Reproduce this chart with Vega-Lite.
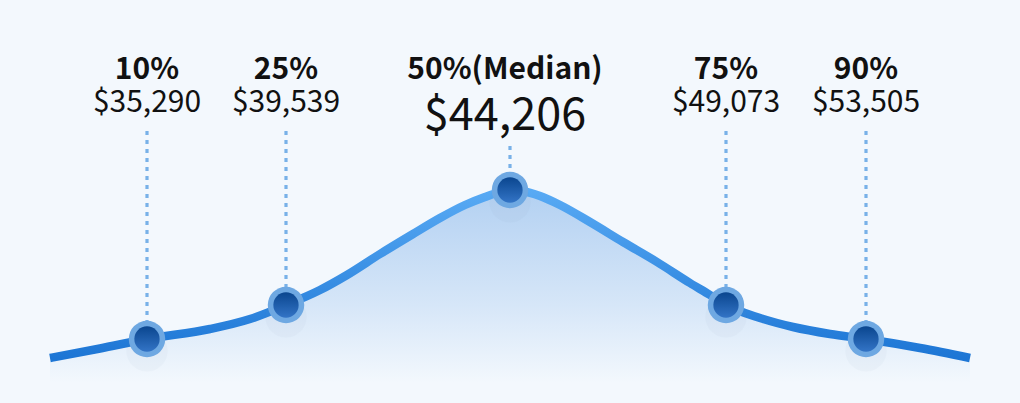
{
  "$schema": "https://vega.github.io/schema/vega-lite/v6.json",
  "description": "Income percentiles shown on a bell-shaped curve",
  "width": 1020,
  "height": 403,
  "autosize": {"type": "fit", "contains": "padding"},
  "padding": 0,
  "background": "#f3f8fd",
  "config": {"view": {"stroke": null}, "font": "Noto Sans CJK SC"},
  "datasets": {
    "curve": [
      {"pos": 50, "level": 45},
      {"pos": 100, "level": 54.5},
      {"pos": 147, "level": 64},
      {"pos": 210, "level": 74},
      {"pos": 250, "level": 84},
      {"pos": 286, "level": 98},
      {"pos": 320, "level": 113},
      {"pos": 347, "level": 128},
      {"pos": 380, "level": 149},
      {"pos": 413, "level": 169},
      {"pos": 440, "level": 185},
      {"pos": 465, "level": 198},
      {"pos": 485, "level": 206},
      {"pos": 500, "level": 211},
      {"pos": 510, "level": 213},
      {"pos": 522, "level": 212},
      {"pos": 540, "level": 207},
      {"pos": 560, "level": 198},
      {"pos": 590, "level": 181},
      {"pos": 623, "level": 161},
      {"pos": 657, "level": 141},
      {"pos": 690, "level": 120},
      {"pos": 710, "level": 108},
      {"pos": 726, "level": 98},
      {"pos": 760, "level": 85},
      {"pos": 793, "level": 76},
      {"pos": 830, "level": 69},
      {"pos": 866, "level": 64},
      {"pos": 920, "level": 55},
      {"pos": 970, "level": 45}
    ],
    "marks": [
      {"pct": "10%", "value": "$35,290", "pos": 147, "level": 64},
      {"pct": "25%", "value": "$39,539", "pos": 286, "level": 98},
      {"pct": "50%(Median)", "value": "$44,206", "pos": 510, "level": 213},
      {"pct": "75%", "value": "$49,073", "pos": 726, "level": 98},
      {"pct": "90%", "value": "$53,505", "pos": 866, "level": 64}
    ]
  },
  "encoding": {
    "x": {"field": "pos", "type": "quantitative", "scale": {"domain": [0, 1020]}, "axis": null},
    "y": {"field": "level", "type": "quantitative", "scale": {"domain": [0, 403]}, "axis": null}
  },
  "layer": [
    {
      "data": {"name": "curve"},
      "mark": {
        "type": "area",
        "interpolate": "monotone",
        "fill": {
          "gradient": "linear", "x1": 0, "y1": 0, "x2": 0, "y2": 1,
          "stops": [
            {"offset": 0, "color": "rgba(100,160,228,0.45)"},
            {"offset": 0.6, "color": "rgba(100,160,228,0.2)"},
            {"offset": 1, "color": "rgba(100,160,228,0)"}
          ]
        }
      },
      "encoding": {"y2": {"datum": 20}}
    },
    {
      "data": {"name": "marks"},
      "transform": [{"filter": "datum.pct != '50%(Median)'"}],
      "mark": {"type": "rule", "color": "#78b1e8", "strokeWidth": 3.2, "strokeDash": [4, 5]},
      "encoding": {
        "y": {"datum": 272},
        "y2": {"field": "level"}
      }
    },
    {
      "data": {"name": "marks"},
      "transform": [{"filter": "datum.pct == '50%(Median)'"}],
      "mark": {"type": "rule", "color": "#78b1e8", "strokeWidth": 3.2, "strokeDash": [4, 5]},
      "encoding": {
        "y": {"datum": 257},
        "y2": {"field": "level"}
      }
    },
    {
      "data": {"name": "curve"},
      "mark": {
        "type": "line",
        "interpolate": "monotone",
        "strokeWidth": 8.5,
        "strokeCap": "butt",
        "stroke": {
          "gradient": "linear", "x1": 0, "y1": 0, "x2": 0, "y2": 1,
          "stops": [
            {"offset": 0, "color": "#58aaf4"},
            {"offset": 1, "color": "#1d76d5"}
          ]
        }
      }
    },
    {
      "data": {"name": "marks"},
      "mark": {"type": "circle", "size": 1700, "fill": "#7b8ea6", "opacity": 0.045, "yOffset": 12}
    },
    {
      "data": {"name": "marks"},
      "mark": {"type": "circle", "size": 1330, "fill": "#6ea8e2", "opacity": 1}
    },
    {
      "data": {"name": "marks"},
      "mark": {
        "type": "circle",
        "size": 640,
        "opacity": 1,
        "fill": {
          "gradient": "linear", "x1": 0, "y1": 0, "x2": 0, "y2": 1,
          "stops": [
            {"offset": 0, "color": "#0a468f"},
            {"offset": 1, "color": "#3374c6"}
          ]
        }
      }
    },
    {
      "data": {"name": "marks"},
      "transform": [{"filter": "datum.pct != '50%(Median)'"}],
      "mark": {"type": "text", "fontWeight": "bold", "fontSize": 30, "baseline": "middle", "align": "center", "color": "#111111"},
      "encoding": {
        "y": {"datum": 333},
        "text": {"field": "pct"}
      }
    },
    {
      "data": {"name": "marks"},
      "transform": [{"filter": "datum.pct == '50%(Median)'"}],
      "mark": {"type": "text", "fontWeight": "bold", "fontSize": 30, "baseline": "middle", "align": "center", "dx": -5, "color": "#111111"},
      "encoding": {
        "y": {"datum": 333},
        "text": {"field": "pct"}
      }
    },
    {
      "data": {"name": "marks"},
      "transform": [{"filter": "datum.pct != '50%(Median)'"}],
      "mark": {"type": "text", "fontSize": 30, "baseline": "middle", "align": "center", "color": "#111111"},
      "encoding": {
        "y": {"datum": 300},
        "text": {"field": "value"}
      }
    },
    {
      "data": {"name": "marks"},
      "transform": [{"filter": "datum.pct == '50%(Median)'"}],
      "mark": {"type": "text", "fontSize": 45, "baseline": "middle", "align": "center", "dx": -5, "color": "#111111"},
      "encoding": {
        "y": {"datum": 287},
        "text": {"field": "value"}
      }
    }
  ]
}
